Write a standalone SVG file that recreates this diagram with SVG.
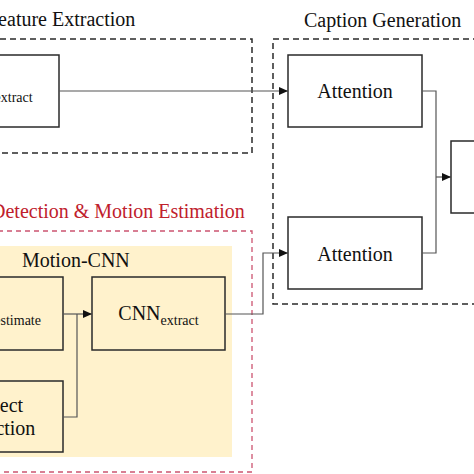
<svg xmlns="http://www.w3.org/2000/svg" width="474" height="474" viewBox="0 0 474 474">
<style>
.t{font-family:"Liberation Serif","Times New Roman","DejaVu Serif",serif;font-size:20px;fill:#111}
.s{font-size:14px}
.red{fill:#c0202c}
.box{fill:none;stroke:#2a2a2a;stroke-width:1.5}
.wbox{fill:#fff;stroke:#2a2a2a;stroke-width:1.5}
.dash{fill:none;stroke:#2a2a2a;stroke-width:1.5;stroke-dasharray:6 4}
.rdash{fill:none;stroke:#cc5470;stroke-width:1.3;stroke-dasharray:5 4}
.c{fill:none;stroke:#555;stroke-width:1.2}
</style>
<defs>
<marker id="ah" markerWidth="10" markerHeight="8" refX="9" refY="4" orient="auto" markerUnits="userSpaceOnUse">
<path d="M0,0 L9,4 L0,8 Z" fill="#111"/>
</marker>
</defs>
<rect width="474" height="474" fill="#fff"/>
<g id="feature-extraction">
<rect class="dash" x="-20" y="39" width="272" height="114"/>
<text class="t" x="-13" y="26">Feature Extraction</text>
</g>
<g id="caption-generation">
<rect class="dash" x="273" y="39" width="230" height="265"/>
<text class="t" x="304" y="27">Caption Generation</text>
</g>
<g id="detection-motion">
<rect class="rdash" x="-20" y="231" width="272" height="241"/>
<text class="t red" x="-9" y="218">Detection &amp; Motion Estimation</text>
</g>
<g id="motion-cnn">
<rect x="-20" y="246" width="252" height="211" fill="#fff2cc"/>
<text class="t" x="22" y="267">Motion-CNN</text>
</g>
<g id="cnn-extract-top">
<rect class="wbox" x="-74" y="55" width="133" height="72"/>
<text class="t" x="-7.5" y="98" text-anchor="middle">CNN<tspan class="s" dy="4">extract</tspan></text>
</g>
<g id="attention-1">
<rect class="wbox" x="288" y="55" width="134" height="72"/>
<text class="t" x="355" y="98" text-anchor="middle">Attention</text>
</g>
<g id="attention-2">
<rect class="wbox" x="288" y="217" width="134" height="72"/>
<text class="t" x="355" y="261" text-anchor="middle">Attention</text>
</g>
<g id="output-box">
<rect class="wbox" x="451" y="141" width="60" height="72"/>
</g>
<g id="cnn-estimate">
<rect class="box" x="-70" y="277" width="133" height="73"/>
<text class="t" x="-3.5" y="320" text-anchor="middle">CNN<tspan class="s" dy="5">estimate</tspan></text>
</g>
<g id="cnn-extract">
<rect class="box" x="92" y="277" width="133" height="73"/>
<text class="t" x="158.5" y="320" text-anchor="middle">CNN<tspan class="s" dy="5">extract</tspan></text>
</g>
<g id="object-detection">
<rect class="box" x="-70" y="381" width="133" height="71"/>
<text class="t" x="-3.5" y="412" text-anchor="middle">Object</text>
<text class="t" x="-3.5" y="435" text-anchor="middle">Detection</text>
</g>
<g id="connectors">
<path class="c" d="M59,91 H288" marker-end="url(#ah)"/>
<path class="c" d="M422,91 H436 V253 H422"/>
<path class="c" d="M436,177 H451" marker-end="url(#ah)"/>
<path class="c" d="M225,314 H263 V253 H288" marker-end="url(#ah)"/>
<path class="c" d="M63,314 H92" marker-end="url(#ah)"/>
<path class="c" d="M63,417 H77 V314"/>
</g>
</svg>
